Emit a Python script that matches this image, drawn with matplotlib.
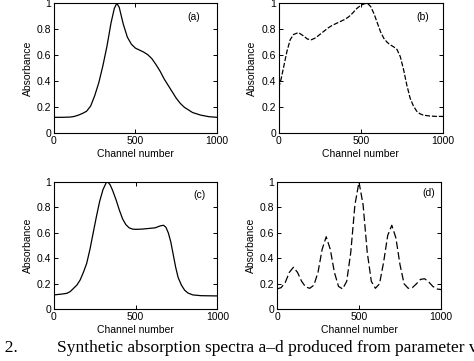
import matplotlib
matplotlib.use("Agg")
import matplotlib.pyplot as plt

# Spectrum (a)
a_ch = [0, 50, 100, 125, 150, 175, 200, 225, 250, 275, 300, 325, 350, 370, 385,
        400, 425, 450, 475, 500, 525, 550, 575, 600, 625, 650, 675, 700, 725,
        750, 775, 800, 850, 900, 950, 1000]
a_abs = [0.123, 0.123, 0.125, 0.13, 0.14, 0.153, 0.17, 0.21, 0.29, 0.39, 0.52,
         0.67, 0.85, 0.96, 1.0, 0.97, 0.84, 0.74, 0.685, 0.655, 0.64, 0.625,
         0.605, 0.575, 0.53, 0.48, 0.42, 0.37, 0.32, 0.27, 0.23, 0.2, 0.16,
         0.14, 0.128, 0.123]

# Spectrum (b)
b_ch = [0, 15, 30, 50, 70, 90, 120, 150, 175, 200, 225, 250, 275, 300, 325,
        350, 375, 400, 425, 450, 475, 500, 525, 540, 560, 580, 600, 620, 640,
        660, 680, 700, 720, 740, 760, 780, 800, 820, 840, 860, 880, 920, 960,
        1000]
b_abs = [0.35, 0.42, 0.51, 0.63, 0.72, 0.76, 0.775, 0.75, 0.725, 0.72, 0.735,
         0.76, 0.785, 0.81, 0.83, 0.845, 0.86, 0.875, 0.895, 0.925, 0.96,
         0.985, 0.998, 1.0, 0.975, 0.92, 0.85, 0.78, 0.73, 0.70, 0.68, 0.665,
         0.645, 0.59, 0.49, 0.37, 0.27, 0.21, 0.17, 0.15, 0.14, 0.133, 0.13,
         0.13]

# Spectrum (c)
c_ch = [0, 50, 80, 100, 120, 140, 160, 180, 200, 220, 240, 260, 280, 300, 320,
        330, 345, 360, 380, 400, 420, 440, 460, 480, 500, 540, 580, 620, 650,
        670, 685, 700, 715, 730, 745, 760, 780, 800, 820, 850, 900, 1000]
c_abs = [0.113, 0.12, 0.126, 0.14, 0.165, 0.19, 0.23, 0.29, 0.36, 0.47, 0.60,
         0.73, 0.85, 0.94, 0.995, 1.0, 0.975, 0.93, 0.86, 0.78, 0.71, 0.665,
         0.64, 0.63, 0.628, 0.63, 0.635, 0.64, 0.655, 0.66, 0.645, 0.6, 0.53,
         0.43, 0.33, 0.25, 0.19, 0.15, 0.128, 0.113, 0.107, 0.105]

# Spectrum (d)
d_ch = [0, 25, 50, 75, 100, 125, 150, 175, 200, 225, 250, 275, 300, 325, 350,
        375, 400, 425, 450, 475, 500, 525, 550, 575, 600, 625, 650, 675, 700,
        725, 750, 775, 800, 825, 850, 875, 900, 925, 950, 975, 1000]
d_abs = [0.16, 0.17, 0.21, 0.29, 0.33, 0.29, 0.22, 0.175, 0.165, 0.19, 0.29,
         0.47, 0.57, 0.47, 0.29, 0.18, 0.16, 0.22, 0.45, 0.82, 1.0, 0.82, 0.45,
         0.22, 0.165, 0.2, 0.37, 0.58, 0.66, 0.56, 0.35, 0.2, 0.165, 0.17, 0.2,
         0.235, 0.24, 0.215, 0.18, 0.16, 0.155]

panels = [
    ("(a)", a_ch, a_abs, "-", [0.1139, 0.6307, 0.3439, 0.3601], (860, 0.895)),
    ("(b)", b_ch, b_abs, (0, (4, 1.5)), [0.588, 0.6307, 0.3466, 0.3601], (878, 0.895)),
    ("(c)", c_ch, c_abs, "-", [0.1139, 0.1432, 0.3446, 0.3527], (889, 0.9)),
    ("(d)", d_ch, d_abs, (0, (6, 2.5)), [0.5844, 0.1432, 0.346, 0.3527], (925, 0.91)),
]

plt.rcParams['font.family'] = ['Liberation Sans', 'DejaVu Sans']
plt.rcParams['font.size'] = 7.5

fig = plt.figure(figsize=(4.74, 3.61), dpi=100)

for tag, ch, ab, ls, rect, tpos in panels:
    ax = fig.add_axes(rect)
    ax.plot(ch, ab, color='black', linewidth=0.9, linestyle=ls)
    ax.set_xlim(0, 1000)
    ax.set_ylim(0, 1)
    ax.set_xticks([0, 500, 1000])
    ax.set_yticks([0, 0.2, 0.4, 0.6, 0.8, 1])
    ax.set_yticklabels(['0', '0.2', '0.4', '0.6', '0.8', '1'])
    ax.tick_params(direction='in', length=3, width=0.7, top=True, right=True, pad=2)
    for s in ax.spines.values():
        s.set_linewidth(0.8)
    ax.set_xlabel('Channel number', labelpad=2)
    ax.set_ylabel('Absorbance', labelpad=3)
    ax.text(tpos[0], tpos[1], tag, ha='center', va='center', fontsize=7.5)

# caption strip, cropped at both edges like the scanned page
fig.text(18 / 474, 1 - 352 / 361, "FIG. 2.", ha='right', va='baseline',
         family='Liberation Serif', fontsize=12.5)
fig.text(57 / 474, 1 - 352 / 361,
         "Synthetic absorption spectra a\u2013d produced from parameter values",
         ha='left', va='baseline', family='Liberation Serif', fontsize=12.5)

fig.savefig('out.png', dpi=100)
